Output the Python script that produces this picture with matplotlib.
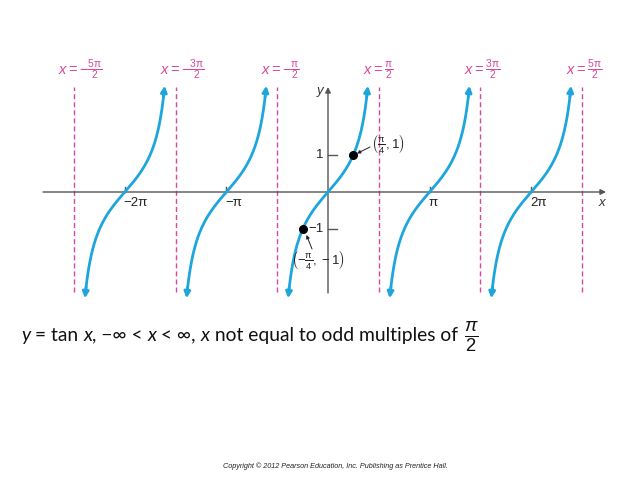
import numpy as np
import matplotlib
matplotlib.use("Agg")
import matplotlib.pyplot as plt

plt.rcParams['mathtext.fontset'] = 'custom'
plt.rcParams['mathtext.rm'] = 'Liberation Sans'
plt.rcParams['mathtext.it'] = 'Liberation Sans:italic'
plt.rcParams['mathtext.bf'] = 'Liberation Sans:bold'
plt.rcParams['mathtext.sf'] = 'Liberation Sans'
plt.rcParams['font.family'] = ['Liberation Sans', 'DejaVu Sans']

# ---------------- data ----------------
branch_centers = [-2 * np.pi, -np.pi, 0.0, np.pi, 2 * np.pi]
asymptote_x = [-5 * np.pi / 2, -3 * np.pi / 2, -np.pi / 2, np.pi / 2, 3 * np.pi / 2, 5 * np.pi / 2]
asymptote_labels = [r'$x = -\frac{5\mathrm{\pi}}{2}$', r'$x = -\frac{3\mathrm{\pi}}{2}$',
                    r'$x = -\frac{\mathrm{\pi}}{2}$', r'$x = \frac{\mathrm{\pi}}{2}$',
                    r'$x = \frac{3\mathrm{\pi}}{2}$', r'$x = \frac{5\mathrm{\pi}}{2}$']
xtick_vals = [-2 * np.pi, -np.pi, np.pi, 2 * np.pi]
xtick_labels = ['\u22122\u03c0', '\u2212\u03c0', '\u03c0', '2\u03c0']
ytick_vals = [1, -1]
ytick_labels = ['1', '\u22121']
point_x = [np.pi / 4, -np.pi / 4]
point_y = [1, -1]
point_labels = [r'$\left(\frac{\mathrm{\pi}}{4}, 1\right)$', r'$\left(-\frac{\mathrm{\pi}}{4}, -1\right)$']
y_clip = 2.85

# ---------------- layout ----------------
W, H = 638, 479
OX, OY = 328.0, 192.0       # pixel of origin
PXR = 101.6 / np.pi          # pixels per radian
PYU = 37.3                   # pixels per unit

def dx(p):
    return (p - OX) / PXR

def dy(p):
    return (OY - p) / PYU

fig = plt.figure(figsize=(W / 100, H / 100), dpi=100)
ax = fig.add_axes([0, 0, 1, 1])
ax.set_xlim(dx(0), dx(W))
ax.set_ylim(dy(H), dy(0))
ax.axis('off')

curve_c = '#1ea6dc'
pink = '#d9479c'
gray = '#555555'

# axes
ax.annotate('', xy=(dx(606), 0), xytext=(dx(43), 0),
            arrowprops=dict(arrowstyle='-|>', color=gray, lw=1.0, mutation_scale=8,
                            shrinkA=0, shrinkB=0), zorder=2)
ax.annotate('', xy=(0, dy(87)), xytext=(0, dy(293)),
            arrowprops=dict(arrowstyle='-|>', color=gray, lw=1.0, mutation_scale=8,
                            shrinkA=0, shrinkB=0), zorder=2)
ax.text(dx(602), dy(203), 'x', style='italic', fontsize=9.5, ha='center', va='center', color='#333333')
ax.text(dx(320), dy(91), 'y', style='italic', fontsize=9.5, ha='center', va='center', color='#333333')

# x ticks
for xv, lab in zip(xtick_vals, xtick_labels):
    ax.plot([xv, xv], [0, 5 / PYU], color=gray, lw=1.0, zorder=2)
    ax.text(xv - 1 / PXR, dy(203), lab, fontsize=9.5, ha='left', va='center', color='#222222')

# y ticks
for yv, lab in zip(ytick_vals, ytick_labels):
    ax.plot([0, 9 / PXR], [yv, yv], color=gray, lw=1.0, zorder=2)
    ax.text(dx(323.5), yv, lab, fontsize=9.5, ha='right', va='center', color='#222222')

# asymptotes
for xa, lab in zip(asymptote_x, asymptote_labels):
    ax.plot([xa, xa], [dy(292), dy(87)], color=pink, lw=1.0, dashes=(3.6, 2.2), zorder=1)
    ax.text(xa - 16 / PXR, dy(70), lab, fontsize=10.5, color=pink, ha='left', va='center')

# tangent branches
a = np.arctan(y_clip)
a_in = np.arctan(2.55)
for c in branch_centers:
    x = np.linspace(-np.arctan(2.62), np.arctan(2.62), 300) + c
    ax.plot(x, np.tan(x), color=curve_c, lw=2.0, solid_capstyle='butt', zorder=3)
    for s in (1, -1):
        ax.annotate('', xy=(c + s * a, np.tan(s * a)), xytext=(c + s * a_in, np.tan(s * a_in)),
                    arrowprops=dict(arrowstyle='-|>', color=curve_c, lw=2.0, mutation_scale=9,
                                    shrinkA=0, shrinkB=0), zorder=3)

# points
ax.plot(point_x, point_y, 'o', color='black', ms=5.5, zorder=4)
ax.text(dx(371), dy(144), point_labels[0], fontsize=9.5, ha='left', va='center', color='#222222')
ax.annotate('', xy=(dx(357), dy(153.5)), xytext=(dx(370), dy(147)),
            arrowprops=dict(arrowstyle='-|>', color='#222222', lw=0.7, mutation_scale=5,
                            shrinkA=0, shrinkB=0))
ax.text(dx(318), dy(260), point_labels[1], fontsize=9.5, ha='center', va='center', color='#222222')
ax.annotate('', xy=(dx(306.5), dy(235)), xytext=(dx(312), dy(249)),
            arrowprops=dict(arrowstyle='-|>', color='#222222', lw=0.7, mutation_scale=5,
                            shrinkA=0, shrinkB=0))

# caption built from pieces on one baseline
caption_pieces = [('y', 'italic'), (' = tan ', 'normal'), ('x', 'italic'),
                  (', \u2212\u221e < ', 'normal'), ('x', 'italic'), (' < \u221e, ', 'normal'),
                  ('x', 'italic'), (' not equal to odd multiples of ', 'normal')]
fig.canvas.draw()
renderer = fig.canvas.get_renderer()
xpos = 21.0
base_px = 341.0
for s, st in caption_pieces:
    t = ax.text(dx(xpos), dy(base_px), s, style=st, fontsize=13.9, family=['Lato', 'DejaVu Sans'],
                ha='left', va='baseline', color='#111111')
    bb = t.get_window_extent(renderer)
    xpos += bb.width
ax.text(dx(xpos + 1), dy(base_px - 4), r'$\frac{\pi}{2}$', fontsize=19, ha='left', va='center',
        color='#111111')

ax.text(dx(335), dy(466), 'Copyright \u00a9 2012 Pearson Education, Inc. Publishing as Prentice Hall.',
        style='italic', fontsize=5.2, family=['Liberation Sans Narrow', 'Liberation Sans'],
        ha='center', va='center', color='#222222')

fig.savefig('out.png', dpi=100)
